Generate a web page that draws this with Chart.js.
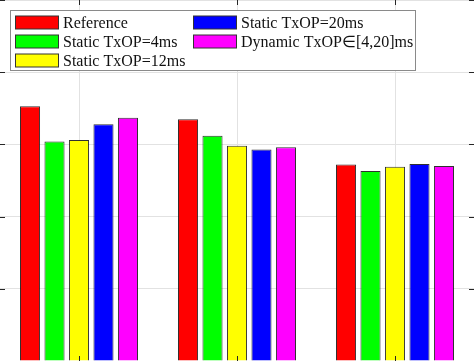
<!DOCTYPE html>
<html>
<head>
<meta charset="utf-8">
<script src="https://cdn.jsdelivr.net/npm/chart.js@4.4.0/dist/chart.umd.min.js"></script>
<style>
  html, body { margin: 0; padding: 0; background: #fff; overflow: hidden; }
  canvas { display: block; }
</style>
</head>
<body>
<canvas id="barChart" width="474" height="361"></canvas>
<script>
// Data (the axis labels are cropped away, units are grid steps)
const categories = ['A', 'B', 'C'];
const seriesNames = ['Reference', 'Static TxOP=4ms', 'Static TxOP=12ms', 'Static TxOP=20ms', 'Dynamic TxOP\u2208[4,20]ms'];
const referenceVals = [3.53, 3.35, 2.72];
const txop4Vals = [3.04, 3.12, 2.63];
const txop12Vals = [3.06, 2.98, 2.69];
const txop20Vals = [3.28, 2.93, 2.73];
const dynamicVals = [3.37, 2.96, 2.70];
const seriesColors = ['#ff0000', '#00ff00', '#ffff00', '#0000ff', '#ff00ff'];
const yMin = 0;
const yMax = 5;

const allSeries = [referenceVals, txop4Vals, txop12Vals, txop20Vals, dynamicVals];

// Inner tick marks on all four sides, like a boxed MATLAB axes
const innerTicks = {
    id: 'innerTicks',
    afterDatasetsDraw(chart) {
        const { ctx, chartArea: a, scales } = chart;
        const len = 5;
        ctx.save();
        ctx.strokeStyle = '#262626';
        ctx.lineWidth = 1;
        ctx.beginPath();
        scales.y.ticks.forEach((t, i) => {
            const y = Math.round(scales.y.getPixelForTick(i)) + 0.5;
            ctx.moveTo(a.left, y); ctx.lineTo(a.left + len, y);
            ctx.moveTo(a.right - len, y); ctx.lineTo(a.right, y);
        });
        scales.x.ticks.forEach((t, i) => {
            const x = Math.round(scales.x.getPixelForValue(i)) + 0.5;
            ctx.moveTo(x, a.top); ctx.lineTo(x, a.top + len);
            ctx.moveTo(x, a.bottom - len); ctx.lineTo(x, a.bottom);
        });
        ctx.stroke();
        ctx.restore();
    }
};

// Legend drawn inside the plot, two columns
const boxLegend = {
    id: 'boxLegend',
    afterDraw(chart) {
        const ctx = chart.ctx;
        const sets = chart.data.datasets;
        const colX = [15, 193];
        const rowY = [22.5, 41.5, 60.5];
        ctx.save();
        ctx.fillStyle = '#ffffff';
        ctx.fillRect(10.5, 10.5, 405, 60);
        ctx.strokeStyle = '#8a8a8a';
        ctx.lineWidth = 1;
        ctx.strokeRect(10.5, 10.5, 405, 60);
        ctx.font = '16px "Liberation Serif", "Times New Roman", serif';
        ctx.textBaseline = 'middle';
        sets.forEach((ds, i) => {
            const col = i < 3 ? 0 : 1;
            const row = i < 3 ? i : i - 3;
            const x = colX[col];
            const y = rowY[row];
            ctx.fillStyle = ds.backgroundColor;
            ctx.fillRect(x, y - 6.5, 44, 13);
            ctx.strokeStyle = '#333333';
            ctx.strokeRect(x + 0.5, y - 6.5, 43, 13);
            ctx.fillStyle = '#111111';
            ctx.fillText(ds.label, x + 48, y + 1);
        });
        ctx.restore();
    }
};

const ctx = document.getElementById('barChart').getContext('2d');
const chart = new Chart(ctx, {
    type: 'bar',
    data: {
        labels: categories,
        datasets: seriesNames.map((name, i) => ({
            label: name,
            data: allSeries[i],
            backgroundColor: seriesColors[i],
            borderColor: 'rgba(25, 25, 25, 0.9)',
            borderWidth: 1,
            borderSkipped: 'start',
            categoryPercentage: 0.775,
            barPercentage: 0.82
        }))
    },
    options: {
        responsive: false,
        animation: false,
        devicePixelRatio: 1,
        layout: { padding: 0 },
        scales: {
            x: {
                offset: true,
                grid: { offset: false, color: '#e2e2e2', drawTicks: false },
                border: { display: false },
                ticks: { display: false }
            },
            y: {
                min: yMin,
                max: yMax,
                grid: { color: '#e2e2e2', drawTicks: false },
                border: { display: false },
                ticks: { display: false, stepSize: 1 }
            }
        },
        plugins: {
            legend: { display: false },
            tooltip: { enabled: false }
        }
    },
    plugins: [innerTicks, boxLegend]
});
</script>
</body>
</html>
